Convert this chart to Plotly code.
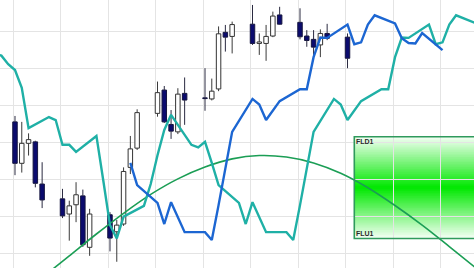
import plotly.graph_objects as go

# ---------------- data ----------------
candle_dates = [
    "2024-03-04", "2024-03-05", "2024-03-06", "2024-03-07", "2024-03-08",
    "2024-03-11", "2024-03-12", "2024-03-13", "2024-03-14", "2024-03-15",
    "2024-03-18", "2024-03-19", "2024-03-20", "2024-03-21", "2024-03-22",
    "2024-03-25", "2024-03-26", "2024-03-27", "2024-03-28", "2024-03-29",
    "2024-04-01", "2024-04-02", "2024-04-03", "2024-04-04", "2024-04-05",
    "2024-04-08", "2024-04-09", "2024-04-10", "2024-04-11", "2024-04-12",
    "2024-04-15", "2024-04-16", "2024-04-17", "2024-04-18", "2024-04-19",
    "2024-04-22",
]
opens = [135.6, 124.4, 129.8, 130.2, 118.8,
         114.8, 110.7, 113.2, 115.6, 101.7,
         110.5, 105.9, 108.0, 123.3, 128.5,
         137.9, 144.2, 134.9, 132.9, 143.3,
         142.1, 141.8, 144.5, 159.8, 158.7,
         162.0, 156.8, 156.8, 158.8, 164.5,
         162.5, 158.8, 157.9, 156.4, 159.5,
         158.5]
highs = [137.2, 135.6, 132.5, 130.5, 124.7,
         117.5, 114.3, 119.3, 117.3, 112.1,
         111.2, 109.1, 123.3, 131.8, 139.0,
         146.5, 145.3, 138.8, 144.7, 147.6,
         150.1, 147.3, 161.4, 161.8, 162.7,
         167.2, 159.5, 161.8, 165.4, 166.7,
         166.3, 160.4, 160.4, 160.6, 162.1,
         159.5]
lows = [121.2, 121.9, 126.5, 117.9, 112.3,
        109.6, 103.5, 108.5, 101.8, 99.4,
        100.6, 97.8, 107.5, 121.5, 128.0,
        137.0, 135.3, 131.0, 132.3, 134.8,
        138.6, 141.4, 143.9, 154.6, 154.1,
        156.4, 153.7, 152.1, 158.5, 161.9,
        157.9, 155.9, 153.7, 153.1, 157.7,
        150.1]
closes = [124.4, 129.8, 130.8, 119.0, 114.5,
          110.2, 112.9, 115.9, 102.4, 110.7,
          104.2, 107.7, 122.2, 128.3, 138.1,
          143.5, 135.6, 133.1, 143.1, 141.5,
          141.9, 143.9, 159.4, 158.5, 161.9,
          156.8, 157.2, 158.7, 164.2, 162.0,
          158.6, 157.6, 155.8, 159.5, 158.2,
          152.8]

teal_dates = [
    "2024-02-28", "2024-03-02", "2024-03-03", "2024-03-04", "2024-03-05", "2024-03-06",
    "2024-03-09", "2024-03-10", "2024-03-11", "2024-03-12", "2024-03-13",
    "2024-03-16", "2024-03-17", "2024-03-18", "2024-03-19", "2024-03-20",
    "2024-03-23", "2024-03-24", "2024-03-25", "2024-03-26", "2024-03-27",
    "2024-03-30", "2024-03-31", "2024-04-01", "2024-04-02", "2024-04-03",
    "2024-04-06", "2024-04-07", "2024-04-08", "2024-04-09", "2024-04-10",
    "2024-04-13", "2024-04-14", "2024-04-15", "2024-04-16", "2024-04-17",
    "2024-04-20", "2024-04-21", "2024-04-22", "2024-04-23", "2024-04-24",
    "2024-04-27", "2024-04-28", "2024-04-29", "2024-04-30", "2024-05-01",
    "2024-05-04", "2024-05-05", "2024-05-06", "2024-05-07", "2024-05-08",
    "2024-05-11",
]
teal_values = [
    155.0, 153.5, 151.2, 149.6, 144.8, 133.9,
    136.9, 136.1, 129.4, 129.4, 127.5,
    131.8, 119.9, 107.7, 104.1, 110.0,
    112.9, 118.8, 126.6, 133.4, 137.5,
    129.4, 128.7, 130.2, 124.5, 118.5,
    113.7, 108.0, 113.9, 109.9, 105.8,
    105.8, 103.7, 113.1, 123.1, 132.9,
    141.8, 140.3, 136.1, 138.5, 141.2,
    144.4, 144.4, 153.1, 158.4, 158.3,
    161.9, 156.6, 157.1, 161.9, 164.4,
    162.2,
]

blue_dates = [
    "2024-03-21", "2024-03-22",
    "2024-03-25", "2024-03-26", "2024-03-27", "2024-03-28", "2024-03-29",
    "2024-04-01", "2024-04-02", "2024-04-03", "2024-04-04", "2024-04-05",
    "2024-04-08", "2024-04-09", "2024-04-10", "2024-04-11", "2024-04-12",
    "2024-04-15", "2024-04-16", "2024-04-17", "2024-04-18", "2024-04-19",
    "2024-04-22", "2024-04-23", "2024-04-24", "2024-04-25", "2024-04-26",
    "2024-04-29", "2024-04-30", "2024-05-01", "2024-05-02", "2024-05-03",
    "2024-05-06",
]
blue_values = [
    124.5, 118.5,
    113.7, 108.0, 113.9, 109.9, 105.8,
    105.8, 103.7, 113.1, 123.1, 132.9,
    141.8, 140.3, 136.1, 138.5, 141.2,
    144.4, 144.4, 153.1, 158.4, 158.3,
    161.9, 156.6, 157.1, 161.9, 164.4,
    162.2, 158.2, 156.9, 156.8, 159.6,
    155.0,
]

cycle_dates = [
    "2024-03-08", "2024-03-12", "2024-03-16", "2024-03-20", "2024-03-24",
    "2024-03-28", "2024-04-01", "2024-04-05", "2024-04-09", "2024-04-13",
    "2024-04-17", "2024-04-21", "2024-04-25", "2024-04-29", "2024-05-03",
    "2024-05-07", "2024-05-11",
]
cycle_values = [
    93.5, 99.4, 105.3, 110.9, 116.0,
    120.2, 123.4, 125.6, 126.5, 126.1,
    124.5, 121.7, 117.8, 113.0, 107.7,
    101.9, 96.0,
]

fld_label = "FLD1"
flu_label = "FLU1"
fld_level = 131.6
flu_level = 104.1
box_start = "2024-04-23"
box_end = "2024-05-25"

x_range = ["2024-03-01 19:00", "2024-05-10 15:20"]
y_range = [96.11, 168.54]

# ---------------- figure ----------------
fig = go.Figure()

DAY_MS = 86400000
body_width = 0.66 * DAY_MS

for up in (True, False):
    idx = [i for i in range(len(candle_dates)) if (closes[i] >= opens[i]) == up]
    wx, wy = [], []
    for i in idx:
        top = max(opens[i], closes[i])
        bot = min(opens[i], closes[i])
        wx += [candle_dates[i], candle_dates[i], None, candle_dates[i], candle_dates[i], None]
        wy += [highs[i], top, None, bot, lows[i], None]
    wick_color = "#3a3a3a" if up else "#2a2a40"
    fig.add_trace(go.Scatter(x=wx, y=wy, mode="lines",
                             line=dict(color=wick_color, width=1),
                             showlegend=False, hoverinfo="skip"))
    fig.add_trace(go.Bar(
        x=[candle_dates[i] for i in idx],
        y=[max(abs(closes[i] - opens[i]), 0.15) for i in idx],
        base=[min(opens[i], closes[i]) for i in idx],
        width=body_width,
        marker=dict(color="#ffffff" if up else "#0b0b6e",
                    line=dict(color="#333333" if up else "#15153f", width=1)),
        showlegend=False, hoverinfo="skip",
    ))

fig.add_trace(go.Scatter(
    x=cycle_dates, y=cycle_values, mode="lines",
    line=dict(color="#1b9e55", width=1.6, shape="spline"),
    showlegend=False, hoverinfo="skip",
))
fig.add_trace(go.Scatter(
    x=teal_dates, y=teal_values, mode="lines",
    line=dict(color="#1fb0a6", width=2.4),
    showlegend=False, hoverinfo="skip",
))
fig.add_trace(go.Scatter(
    x=blue_dates, y=blue_values, mode="lines",
    line=dict(color="#1c66d2", width=2.4),
    showlegend=False, hoverinfo="skip",
))

# gradient box between FLU and FLD
n_slices = 60
center = (fld_level + flu_level) / 2
half = (fld_level - flu_level) / 2
step = (fld_level - flu_level) / n_slices
green = (0, 232, 0)
white = (246, 255, 246)
for i in range(n_slices):
    y0 = flu_level + step * i
    y1 = min(fld_level, y0 + step * 1.6)
    t = min(1.0, abs(y0 + step / 2 - center) / half)
    c = tuple(int(round(g * (1 - t) + w * t)) for g, w in zip(green, white))
    fig.add_shape(type="rect", xref="x", yref="y",
                  x0=box_start, x1=box_end, y0=y0, y1=y1,
                  fillcolor="rgb(%d,%d,%d)" % c, line=dict(width=0),
                  layer="below")
fig.add_shape(type="rect", xref="x", yref="y",
              x0=box_start, x1=box_end, y0=flu_level, y1=fld_level,
              fillcolor="rgba(0,0,0,0)", line=dict(color="#2f9a5c", width=1.6),
              layer="above")

fig.add_annotation(x=box_start, y=fld_level, text="<b>%s</b>" % fld_label,
                   showarrow=False, xanchor="left", yanchor="top",
                   xshift=1, yshift=0, borderpad=0,
                   font=dict(family="Liberation Sans, Arial", size=7, color="#2a2a2a"))
fig.add_annotation(x=box_start, y=flu_level, text="<b>%s</b>" % flu_label,
                   showarrow=False, xanchor="left", yanchor="bottom",
                   xshift=1, yshift=0, borderpad=0,
                   font=dict(family="Liberation Sans, Arial", size=7, color="#2a2a2a"))

fig.update_layout(
    width=474, height=268,
    margin=dict(l=0, r=0, t=0, b=0),
    paper_bgcolor="white", plot_bgcolor="white",
    showlegend=False, barmode="overlay",
    xaxis=dict(type="date", range=x_range, showgrid=True, gridcolor="#e4e4e4",
               gridwidth=1, tick0="2024-03-03 17:00", dtick=7 * DAY_MS,
               showticklabels=False, zeroline=False,
               showline=False, ticks=""),
    yaxis=dict(range=y_range, showgrid=True, gridcolor="#e4e4e4", gridwidth=1,
               tick0=100, dtick=10, showticklabels=False, zeroline=False,
               showline=False, ticks=""),
)

fig.write_html("out.html")
